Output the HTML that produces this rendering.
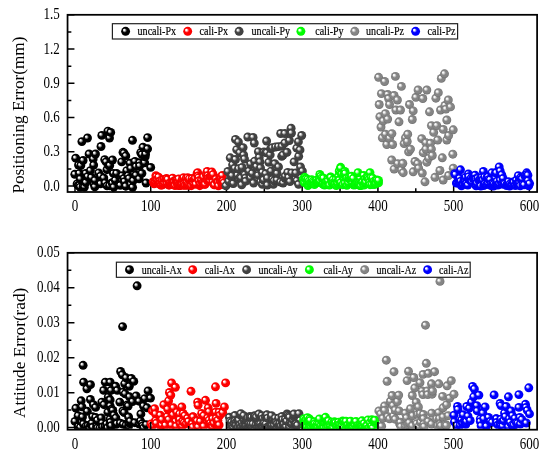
<!DOCTYPE html>
<html><head><meta charset="utf-8"><title>Positioning and attitude error</title>
<style>
html,body{margin:0;padding:0;background:#fff}
body{width:550px;height:456px;overflow:hidden}
svg{display:block;font-family:"Liberation Serif","Times New Roman",serif;fill:#000}
.tk text{font-size:17.4px}
.lg text{font-size:12.7px;stroke:#000;stroke-width:0.2px}
.ti{font-size:17.2px}
</style></head><body>
<svg width="550" height="456" viewBox="0 0 550 456">
<defs>
<radialGradient id="Gk" cx="0.5" cy="0.5" r="0.5" fx="0.31" fy="0.32"><stop offset="0" stop-color="#f6f6f6"/><stop offset="0.15" stop-color="#f6f6f6"/><stop offset="0.5" stop-color="#000000"/><stop offset="0.8" stop-color="#000000"/><stop offset="1" stop-color="#000000"/></radialGradient>
<g id="mk"><circle r="4.45" fill="url(#Gk)"/></g>
<radialGradient id="Gr" cx="0.5" cy="0.5" r="0.5" fx="0.31" fy="0.32"><stop offset="0" stop-color="#ffffff"/><stop offset="0.15" stop-color="#ffffff"/><stop offset="0.5" stop-color="#ff0000"/><stop offset="0.8" stop-color="#ff0000"/><stop offset="1" stop-color="#f00000"/></radialGradient>
<g id="mr"><circle r="4.45" fill="url(#Gr)"/></g>
<radialGradient id="Gd" cx="0.5" cy="0.5" r="0.5" fx="0.31" fy="0.32"><stop offset="0" stop-color="#f6f6f6"/><stop offset="0.15" stop-color="#f6f6f6"/><stop offset="0.5" stop-color="#424242"/><stop offset="0.8" stop-color="#424242"/><stop offset="1" stop-color="#383838"/></radialGradient>
<g id="md"><circle r="4.45" fill="url(#Gd)"/></g>
<radialGradient id="Gn" cx="0.5" cy="0.5" r="0.5" fx="0.31" fy="0.32"><stop offset="0" stop-color="#ffffff"/><stop offset="0.15" stop-color="#ffffff"/><stop offset="0.5" stop-color="#00ff00"/><stop offset="0.8" stop-color="#00ff00"/><stop offset="1" stop-color="#00f000"/></radialGradient>
<g id="mn"><circle r="4.45" fill="url(#Gn)"/></g>
<radialGradient id="Gg" cx="0.5" cy="0.5" r="0.5" fx="0.31" fy="0.32"><stop offset="0" stop-color="#f8f8f8"/><stop offset="0.15" stop-color="#f8f8f8"/><stop offset="0.5" stop-color="#858585"/><stop offset="0.8" stop-color="#858585"/><stop offset="1" stop-color="#6e6e6e"/></radialGradient>
<g id="mg"><circle r="4.45" fill="url(#Gg)"/></g>
<radialGradient id="Gb" cx="0.5" cy="0.5" r="0.5" fx="0.31" fy="0.32"><stop offset="0" stop-color="#ffffff"/><stop offset="0.15" stop-color="#ffffff"/><stop offset="0.5" stop-color="#0000ff"/><stop offset="0.8" stop-color="#0000ff"/><stop offset="1" stop-color="#0000f0"/></radialGradient>
<g id="mb"><circle r="4.45" fill="url(#Gb)"/></g>
<clipPath id="c1"><rect x="67.55" y="14.8" width="469.55" height="177.2"/></clipPath>
<clipPath id="c2"><rect x="67.55" y="252.8" width="469.55" height="175.99999999999997"/></clipPath>
</defs>
<rect width="550" height="456" fill="#fff"/>
<rect x="67.55" y="14.8" width="469.55" height="177.2" fill="none" stroke="#000" stroke-width="1.75"/>
<path d="M75.00 192.0v-7.8 M150.73 192.0v-7.8 M226.46 192.0v-7.8 M302.19 192.0v-7.8 M377.92 192.0v-7.8 M453.65 192.0v-7.8 M529.38 192.0v-7.8 M112.87 192.0v-3.8 M188.59 192.0v-3.8 M264.32 192.0v-3.8 M340.06 192.0v-3.8 M415.78 192.0v-3.8 M491.51 192.0v-3.8 M67.55 186.10h6.9 M67.55 151.84h6.9 M67.55 117.58h6.9 M67.55 83.32h6.9 M67.55 49.06h6.9 M67.55 14.80h6.9 M67.55 168.97h3.8 M67.55 134.71h3.8 M67.55 100.45h3.8 M67.55 66.19h3.8 M67.55 31.93h3.8" stroke="#000" stroke-width="1.5" fill="none"/>
<g class="tk">
<text transform="translate(75.0 211.2) scale(0.795 1)" text-anchor="middle" style="font-size:16.4px">0</text>
<text transform="translate(150.7 211.2) scale(0.795 1)" text-anchor="middle" style="font-size:16.4px">100</text>
<text transform="translate(226.5 211.2) scale(0.795 1)" text-anchor="middle" style="font-size:16.4px">200</text>
<text transform="translate(302.2 211.2) scale(0.795 1)" text-anchor="middle" style="font-size:16.4px">300</text>
<text transform="translate(377.9 211.2) scale(0.795 1)" text-anchor="middle" style="font-size:16.4px">400</text>
<text transform="translate(453.6 211.2) scale(0.795 1)" text-anchor="middle" style="font-size:16.4px">500</text>
<text transform="translate(529.4 211.2) scale(0.795 1)" text-anchor="middle" style="font-size:16.4px">600</text>
<text transform="translate(59.8 190.6) scale(0.75 1)" text-anchor="end">0.0</text>
<text transform="translate(59.8 156.3) scale(0.75 1)" text-anchor="end">0.3</text>
<text transform="translate(59.8 122.1) scale(0.75 1)" text-anchor="end">0.6</text>
<text transform="translate(59.8 87.8) scale(0.75 1)" text-anchor="end">0.9</text>
<text transform="translate(59.8 53.6) scale(0.75 1)" text-anchor="end">1.2</text>
<text transform="translate(59.8 19.3) scale(0.75 1)" text-anchor="end">1.5</text>
</g>
<g clip-path="url(#c1)">
<use href="#mk" x="74.8" y="174.3"/>
<use href="#mk" x="75.7" y="158.2"/>
<use href="#mk" x="77.1" y="183.9"/>
<use href="#mk" x="78.2" y="185.5"/>
<use href="#mk" x="78.5" y="165.1"/>
<use href="#mk" x="79.4" y="173.4"/>
<use href="#mk" x="79.4" y="185.2"/>
<use href="#mk" x="80.1" y="187.1"/>
<use href="#mk" x="80.3" y="178.9"/>
<use href="#mk" x="80.8" y="165.5"/>
<use href="#mk" x="81.9" y="141.6"/>
<use href="#mk" x="83.1" y="160.5"/>
<use href="#mk" x="83.2" y="186.5"/>
<use href="#mk" x="84.4" y="187.0"/>
<use href="#mk" x="85.8" y="173.4"/>
<use href="#mk" x="85.8" y="182.6"/>
<use href="#mk" x="87.5" y="138.0"/>
<use href="#mk" x="87.7" y="176.6"/>
<use href="#mk" x="89.1" y="154.0"/>
<use href="#mk" x="90.4" y="170.6"/>
<use href="#mk" x="91.4" y="177.5"/>
<use href="#mk" x="93.2" y="159.0"/>
<use href="#mk" x="93.7" y="165.1"/>
<use href="#mk" x="93.9" y="183.8"/>
<use href="#mk" x="94.8" y="186.8"/>
<use href="#mk" x="95.0" y="180.3"/>
<use href="#mk" x="95.5" y="154.0"/>
<use href="#mk" x="98.7" y="172.9"/>
<use href="#mk" x="100.6" y="176.1"/>
<use href="#mk" x="100.6" y="183.8"/>
<use href="#mk" x="101.0" y="146.5"/>
<use href="#mk" x="101.8" y="135.4"/>
<use href="#mk" x="103.8" y="178.0"/>
<use href="#mk" x="104.7" y="159.6"/>
<use href="#mk" x="105.2" y="183.0"/>
<use href="#mk" x="106.1" y="161.9"/>
<use href="#mk" x="107.0" y="169.7"/>
<use href="#mk" x="107.1" y="185.9"/>
<use href="#mk" x="107.9" y="131.1"/>
<use href="#mk" x="108.8" y="165.5"/>
<use href="#mk" x="109.5" y="138.0"/>
<use href="#mk" x="109.5" y="185.7"/>
<use href="#mk" x="109.7" y="165.5"/>
<use href="#mk" x="110.7" y="132.4"/>
<use href="#mk" x="112.0" y="182.6"/>
<use href="#mk" x="112.4" y="183.2"/>
<use href="#mk" x="112.5" y="160.0"/>
<use href="#mk" x="113.4" y="173.4"/>
<use href="#mk" x="113.8" y="187.2"/>
<use href="#mk" x="115.3" y="180.3"/>
<use href="#mk" x="116.6" y="173.4"/>
<use href="#mk" x="120.3" y="185.3"/>
<use href="#mk" x="121.7" y="161.9"/>
<use href="#mk" x="122.2" y="175.7"/>
<use href="#mk" x="123.0" y="152.3"/>
<use href="#mk" x="124.0" y="153.1"/>
<use href="#mk" x="124.0" y="178.4"/>
<use href="#mk" x="124.5" y="181.6"/>
<use href="#mk" x="125.8" y="155.9"/>
<use href="#mk" x="125.8" y="185.8"/>
<use href="#mk" x="125.8" y="186.2"/>
<use href="#mk" x="126.8" y="170.6"/>
<use href="#mk" x="128.1" y="175.7"/>
<use href="#mk" x="129.1" y="178.4"/>
<use href="#mk" x="130.0" y="163.2"/>
<use href="#mk" x="130.9" y="168.3"/>
<use href="#mk" x="130.9" y="184.4"/>
<use href="#mk" x="132.5" y="140.3"/>
<use href="#mk" x="132.6" y="187.3"/>
<use href="#mk" x="133.2" y="180.7"/>
<use href="#mk" x="135.0" y="161.4"/>
<use href="#mk" x="136.0" y="166.5"/>
<use href="#mk" x="136.0" y="175.2"/>
<use href="#mk" x="139.2" y="178.9"/>
<use href="#mk" x="139.6" y="162.8"/>
<use href="#mk" x="139.6" y="166.0"/>
<use href="#mk" x="140.7" y="152.6"/>
<use href="#mk" x="141.9" y="154.5"/>
<use href="#mk" x="141.9" y="173.4"/>
<use href="#mk" x="143.0" y="147.2"/>
<use href="#mk" x="144.7" y="162.8"/>
<use href="#mk" x="145.2" y="156.8"/>
<use href="#mk" x="145.6" y="154.1"/>
<use href="#mk" x="146.1" y="183.0"/>
<use href="#mk" x="147.6" y="137.6"/>
<use href="#mk" x="147.6" y="148.8"/>
<use href="#mk" x="150.7" y="167.4"/>
<use href="#mr" x="153.2" y="181.6"/>
<use href="#mr" x="154.1" y="183.8"/>
<use href="#mr" x="154.7" y="180.9"/>
<use href="#mr" x="155.4" y="182.2"/>
<use href="#mr" x="155.9" y="175.6"/>
<use href="#mr" x="156.4" y="176.6"/>
<use href="#mr" x="156.9" y="180.1"/>
<use href="#mr" x="157.3" y="179.9"/>
<use href="#mr" x="158.6" y="177.1"/>
<use href="#mr" x="159.5" y="184.2"/>
<use href="#mr" x="159.9" y="181.0"/>
<use href="#mr" x="160.4" y="183.0"/>
<use href="#mr" x="161.3" y="185.3"/>
<use href="#mr" x="162.0" y="180.5"/>
<use href="#mr" x="162.9" y="184.6"/>
<use href="#mr" x="163.8" y="179.5"/>
<use href="#mr" x="164.4" y="183.2"/>
<use href="#mr" x="165.5" y="179.4"/>
<use href="#mr" x="166.5" y="179.6"/>
<use href="#mr" x="166.5" y="178.5"/>
<use href="#mr" x="166.9" y="183.4"/>
<use href="#mr" x="167.7" y="179.4"/>
<use href="#mr" x="169.0" y="185.2"/>
<use href="#mr" x="169.1" y="184.7"/>
<use href="#mr" x="170.0" y="182.9"/>
<use href="#mr" x="171.0" y="184.5"/>
<use href="#mr" x="171.4" y="183.4"/>
<use href="#mr" x="172.4" y="182.2"/>
<use href="#mr" x="172.6" y="178.1"/>
<use href="#mr" x="173.7" y="181.2"/>
<use href="#mr" x="174.1" y="181.8"/>
<use href="#mr" x="175.0" y="185.6"/>
<use href="#mr" x="176.0" y="180.4"/>
<use href="#mr" x="176.7" y="180.2"/>
<use href="#mr" x="177.1" y="183.5"/>
<use href="#mr" x="177.7" y="181.7"/>
<use href="#mr" x="178.4" y="185.6"/>
<use href="#mr" x="178.7" y="178.9"/>
<use href="#mr" x="179.3" y="185.1"/>
<use href="#mr" x="180.2" y="185.6"/>
<use href="#mr" x="180.7" y="185.2"/>
<use href="#mr" x="181.6" y="183.8"/>
<use href="#mr" x="182.3" y="179.5"/>
<use href="#mr" x="183.6" y="185.2"/>
<use href="#mr" x="183.6" y="177.7"/>
<use href="#mr" x="184.1" y="183.9"/>
<use href="#mr" x="184.9" y="185.3"/>
<use href="#mr" x="186.1" y="178.4"/>
<use href="#mr" x="186.6" y="182.9"/>
<use href="#mr" x="187.1" y="185.4"/>
<use href="#mr" x="187.7" y="177.7"/>
<use href="#mr" x="188.0" y="184.5"/>
<use href="#mr" x="189.2" y="185.1"/>
<use href="#mr" x="189.3" y="178.8"/>
<use href="#mr" x="190.5" y="185.2"/>
<use href="#mr" x="191.3" y="185.7"/>
<use href="#mr" x="192.1" y="178.5"/>
<use href="#mr" x="193.1" y="180.8"/>
<use href="#mr" x="193.4" y="183.5"/>
<use href="#mr" x="194.2" y="179.3"/>
<use href="#mr" x="195.2" y="178.3"/>
<use href="#mr" x="195.8" y="184.2"/>
<use href="#mr" x="197.0" y="173.7"/>
<use href="#mr" x="197.7" y="172.7"/>
<use href="#mr" x="197.8" y="176.0"/>
<use href="#mr" x="198.6" y="177.6"/>
<use href="#mr" x="198.9" y="180.8"/>
<use href="#mr" x="199.8" y="185.7"/>
<use href="#mr" x="200.3" y="183.9"/>
<use href="#mr" x="201.3" y="180.1"/>
<use href="#mr" x="202.6" y="183.0"/>
<use href="#mr" x="203.3" y="176.9"/>
<use href="#mr" x="204.1" y="183.1"/>
<use href="#mr" x="204.4" y="184.3"/>
<use href="#mr" x="205.1" y="184.3"/>
<use href="#mr" x="206.2" y="174.4"/>
<use href="#mr" x="207.2" y="180.3"/>
<use href="#mr" x="207.2" y="171.4"/>
<use href="#mr" x="207.8" y="175.7"/>
<use href="#mr" x="208.2" y="178.2"/>
<use href="#mr" x="209.6" y="177.7"/>
<use href="#mr" x="210.2" y="181.2"/>
<use href="#mr" x="210.6" y="176.7"/>
<use href="#mr" x="211.5" y="175.7"/>
<use href="#mr" x="211.8" y="171.9"/>
<use href="#mr" x="212.8" y="182.0"/>
<use href="#mr" x="213.1" y="174.4"/>
<use href="#mr" x="214.1" y="184.7"/>
<use href="#mr" x="214.4" y="184.9"/>
<use href="#mr" x="215.8" y="179.2"/>
<use href="#mr" x="216.0" y="179.2"/>
<use href="#mr" x="217.5" y="181.4"/>
<use href="#mr" x="217.7" y="182.3"/>
<use href="#mr" x="218.4" y="185.8"/>
<use href="#mr" x="219.8" y="180.7"/>
<use href="#mr" x="220.2" y="177.4"/>
<use href="#mr" x="220.9" y="177.8"/>
<use href="#mr" x="222.0" y="184.5"/>
<use href="#mr" x="222.3" y="175.5"/>
<use href="#mr" x="222.4" y="183.7"/>
<use href="#mr" x="223.1" y="180.9"/>
<use href="#mr" x="223.9" y="182.8"/>
<use href="#md" x="226.0" y="185.8"/>
<use href="#md" x="227.9" y="171.5"/>
<use href="#md" x="228.8" y="181.2"/>
<use href="#md" x="230.2" y="157.8"/>
<use href="#md" x="230.8" y="176.6"/>
<use href="#md" x="232.0" y="175.7"/>
<use href="#md" x="232.3" y="183.1"/>
<use href="#md" x="232.6" y="164.8"/>
<use href="#md" x="233.4" y="183.5"/>
<use href="#md" x="234.8" y="168.3"/>
<use href="#md" x="235.5" y="139.4"/>
<use href="#md" x="235.5" y="159.5"/>
<use href="#md" x="236.7" y="149.6"/>
<use href="#md" x="237.5" y="175.2"/>
<use href="#md" x="238.4" y="141.9"/>
<use href="#md" x="238.5" y="168.8"/>
<use href="#md" x="238.9" y="179.2"/>
<use href="#md" x="239.8" y="152.7"/>
<use href="#md" x="240.3" y="177.0"/>
<use href="#md" x="241.0" y="177.9"/>
<use href="#md" x="241.7" y="184.9"/>
<use href="#md" x="242.1" y="167.4"/>
<use href="#md" x="243.1" y="147.6"/>
<use href="#md" x="243.7" y="155.0"/>
<use href="#md" x="244.5" y="159.0"/>
<use href="#md" x="244.9" y="174.7"/>
<use href="#md" x="245.6" y="178.0"/>
<use href="#md" x="245.8" y="181.2"/>
<use href="#md" x="247.8" y="137.0"/>
<use href="#md" x="249.0" y="171.0"/>
<use href="#md" x="250.6" y="164.0"/>
<use href="#md" x="250.6" y="177.8"/>
<use href="#md" x="252.3" y="173.4"/>
<use href="#md" x="253.1" y="137.4"/>
<use href="#md" x="253.6" y="183.0"/>
<use href="#md" x="254.3" y="143.1"/>
<use href="#md" x="254.7" y="161.1"/>
<use href="#md" x="256.4" y="166.5"/>
<use href="#md" x="258.1" y="175.4"/>
<use href="#md" x="258.4" y="151.7"/>
<use href="#md" x="259.2" y="157.4"/>
<use href="#md" x="260.0" y="161.9"/>
<use href="#md" x="260.5" y="167.8"/>
<use href="#md" x="260.6" y="181.8"/>
<use href="#md" x="262.4" y="172.4"/>
<use href="#md" x="262.4" y="184.4"/>
<use href="#md" x="263.3" y="179.8"/>
<use href="#md" x="263.7" y="179.8"/>
<use href="#md" x="264.0" y="151.9"/>
<use href="#md" x="265.8" y="152.5"/>
<use href="#md" x="265.8" y="173.7"/>
<use href="#md" x="266.6" y="141.0"/>
<use href="#md" x="266.9" y="152.7"/>
<use href="#md" x="267.4" y="178.0"/>
<use href="#md" x="267.4" y="185.1"/>
<use href="#md" x="268.8" y="162.3"/>
<use href="#md" x="270.2" y="154.8"/>
<use href="#md" x="270.6" y="148.6"/>
<use href="#md" x="271.1" y="171.1"/>
<use href="#md" x="272.2" y="147.8"/>
<use href="#md" x="272.5" y="179.3"/>
<use href="#md" x="273.4" y="184.4"/>
<use href="#md" x="274.0" y="180.8"/>
<use href="#md" x="274.8" y="163.7"/>
<use href="#md" x="275.5" y="147.0"/>
<use href="#md" x="277.0" y="180.0"/>
<use href="#md" x="277.1" y="173.4"/>
<use href="#md" x="278.4" y="146.6"/>
<use href="#md" x="278.5" y="166.9"/>
<use href="#md" x="280.5" y="182.0"/>
<use href="#md" x="280.7" y="133.5"/>
<use href="#md" x="281.7" y="156.3"/>
<use href="#md" x="282.0" y="146.2"/>
<use href="#md" x="283.1" y="155.0"/>
<use href="#md" x="283.1" y="183.0"/>
<use href="#md" x="284.9" y="133.5"/>
<use href="#md" x="284.9" y="142.9"/>
<use href="#md" x="284.9" y="178.0"/>
<use href="#md" x="285.2" y="176.2"/>
<use href="#md" x="287.0" y="152.3"/>
<use href="#md" x="287.7" y="172.4"/>
<use href="#md" x="288.6" y="177.5"/>
<use href="#md" x="289.4" y="140.5"/>
<use href="#md" x="290.0" y="181.6"/>
<use href="#md" x="291.1" y="128.2"/>
<use href="#md" x="291.5" y="133.1"/>
<use href="#md" x="291.8" y="172.9"/>
<use href="#md" x="294.1" y="161.9"/>
<use href="#md" x="295.9" y="172.9"/>
<use href="#md" x="296.8" y="148.2"/>
<use href="#md" x="296.9" y="180.7"/>
<use href="#md" x="298.4" y="141.7"/>
<use href="#md" x="298.6" y="184.3"/>
<use href="#md" x="298.7" y="156.3"/>
<use href="#md" x="300.0" y="149.9"/>
<use href="#md" x="300.5" y="166.9"/>
<use href="#md" x="301.7" y="135.5"/>
<use href="#md" x="302.4" y="171.1"/>
<use href="#mn" x="303.3" y="178.8"/>
<use href="#mn" x="304.4" y="182.7"/>
<use href="#mn" x="304.8" y="177.3"/>
<use href="#mn" x="305.4" y="178.6"/>
<use href="#mn" x="306.1" y="178.7"/>
<use href="#mn" x="307.1" y="182.4"/>
<use href="#mn" x="307.7" y="179.4"/>
<use href="#mn" x="307.9" y="185.6"/>
<use href="#mn" x="308.7" y="184.9"/>
<use href="#mn" x="309.2" y="180.9"/>
<use href="#mn" x="310.2" y="183.3"/>
<use href="#mn" x="311.5" y="182.8"/>
<use href="#mn" x="311.8" y="179.8"/>
<use href="#mn" x="312.0" y="183.0"/>
<use href="#mn" x="313.1" y="181.2"/>
<use href="#mn" x="313.6" y="182.8"/>
<use href="#mn" x="314.5" y="184.5"/>
<use href="#mn" x="315.8" y="182.6"/>
<use href="#mn" x="316.5" y="180.1"/>
<use href="#mn" x="317.7" y="182.5"/>
<use href="#mn" x="318.3" y="181.6"/>
<use href="#mn" x="319.0" y="179.1"/>
<use href="#mn" x="319.8" y="174.4"/>
<use href="#mn" x="319.8" y="180.7"/>
<use href="#mn" x="320.7" y="176.2"/>
<use href="#mn" x="321.8" y="177.9"/>
<use href="#mn" x="322.8" y="184.2"/>
<use href="#mn" x="323.4" y="178.7"/>
<use href="#mn" x="323.5" y="178.2"/>
<use href="#mn" x="324.5" y="185.1"/>
<use href="#mn" x="324.7" y="183.2"/>
<use href="#mn" x="325.5" y="184.5"/>
<use href="#mn" x="326.4" y="181.7"/>
<use href="#mn" x="327.8" y="179.3"/>
<use href="#mn" x="328.1" y="180.8"/>
<use href="#mn" x="329.4" y="185.0"/>
<use href="#mn" x="330.5" y="177.3"/>
<use href="#mn" x="330.6" y="176.9"/>
<use href="#mn" x="330.8" y="177.5"/>
<use href="#mn" x="331.8" y="182.4"/>
<use href="#mn" x="333.1" y="179.8"/>
<use href="#mn" x="333.3" y="183.2"/>
<use href="#mn" x="334.4" y="184.0"/>
<use href="#mn" x="335.0" y="184.0"/>
<use href="#mn" x="336.0" y="179.4"/>
<use href="#mn" x="336.3" y="185.6"/>
<use href="#mn" x="337.0" y="182.3"/>
<use href="#mn" x="337.4" y="183.1"/>
<use href="#mn" x="338.4" y="176.3"/>
<use href="#mn" x="338.8" y="179.8"/>
<use href="#mn" x="339.2" y="171.0"/>
<use href="#mn" x="339.3" y="180.2"/>
<use href="#mn" x="340.6" y="167.3"/>
<use href="#mn" x="340.7" y="168.1"/>
<use href="#mn" x="340.9" y="182.5"/>
<use href="#mn" x="341.7" y="174.4"/>
<use href="#mn" x="342.8" y="184.7"/>
<use href="#mn" x="343.5" y="178.2"/>
<use href="#mn" x="343.8" y="174.6"/>
<use href="#mn" x="344.9" y="171.4"/>
<use href="#mn" x="345.0" y="183.2"/>
<use href="#mn" x="345.3" y="173.4"/>
<use href="#mn" x="346.5" y="178.3"/>
<use href="#mn" x="346.9" y="185.3"/>
<use href="#mn" x="348.3" y="182.8"/>
<use href="#mn" x="348.6" y="178.1"/>
<use href="#mn" x="349.9" y="179.4"/>
<use href="#mn" x="350.3" y="178.6"/>
<use href="#mn" x="351.2" y="178.1"/>
<use href="#mn" x="351.5" y="176.3"/>
<use href="#mn" x="352.4" y="183.5"/>
<use href="#mn" x="353.3" y="178.3"/>
<use href="#mn" x="353.9" y="185.1"/>
<use href="#mn" x="355.0" y="184.2"/>
<use href="#mn" x="355.5" y="184.7"/>
<use href="#mn" x="356.3" y="184.3"/>
<use href="#mn" x="357.4" y="183.0"/>
<use href="#mn" x="358.0" y="172.7"/>
<use href="#mn" x="358.6" y="183.2"/>
<use href="#mn" x="359.2" y="184.4"/>
<use href="#mn" x="360.0" y="185.5"/>
<use href="#mn" x="360.7" y="185.6"/>
<use href="#mn" x="362.0" y="181.6"/>
<use href="#mn" x="362.4" y="182.2"/>
<use href="#mn" x="363.7" y="175.5"/>
<use href="#mn" x="363.9" y="185.1"/>
<use href="#mn" x="364.7" y="182.5"/>
<use href="#mn" x="365.2" y="178.6"/>
<use href="#mn" x="366.0" y="182.2"/>
<use href="#mn" x="367.1" y="176.9"/>
<use href="#mn" x="367.7" y="178.0"/>
<use href="#mn" x="368.8" y="179.3"/>
<use href="#mn" x="369.4" y="182.5"/>
<use href="#mn" x="370.0" y="184.7"/>
<use href="#mn" x="370.0" y="172.7"/>
<use href="#mn" x="370.9" y="177.7"/>
<use href="#mn" x="371.9" y="184.6"/>
<use href="#mn" x="372.6" y="178.1"/>
<use href="#mn" x="374.1" y="181.3"/>
<use href="#mn" x="374.5" y="184.5"/>
<use href="#mn" x="375.3" y="183.4"/>
<use href="#mn" x="375.9" y="180.9"/>
<use href="#mn" x="376.1" y="183.5"/>
<use href="#mn" x="377.0" y="179.9"/>
<use href="#mn" x="378.5" y="182.9"/>
<use href="#mn" x="378.5" y="180.4"/>
<use href="#mg" x="378.6" y="77.3"/>
<use href="#mg" x="379.2" y="104.5"/>
<use href="#mg" x="379.9" y="116.7"/>
<use href="#mg" x="381.0" y="127.0"/>
<use href="#mg" x="381.4" y="93.6"/>
<use href="#mg" x="382.3" y="137.8"/>
<use href="#mg" x="383.2" y="120.9"/>
<use href="#mg" x="384.6" y="81.5"/>
<use href="#mg" x="385.4" y="113.6"/>
<use href="#mg" x="385.4" y="134.2"/>
<use href="#mg" x="386.8" y="144.5"/>
<use href="#mg" x="387.7" y="94.5"/>
<use href="#mg" x="387.7" y="119.1"/>
<use href="#mg" x="388.6" y="98.5"/>
<use href="#mg" x="389.5" y="104.5"/>
<use href="#mg" x="389.5" y="138.2"/>
<use href="#mg" x="391.7" y="160.0"/>
<use href="#mg" x="391.9" y="133.6"/>
<use href="#mg" x="392.6" y="144.5"/>
<use href="#mg" x="394.1" y="95.5"/>
<use href="#mg" x="394.1" y="169.1"/>
<use href="#mg" x="395.4" y="76.4"/>
<use href="#mg" x="395.9" y="110.0"/>
<use href="#mg" x="397.4" y="100.0"/>
<use href="#mg" x="397.7" y="163.6"/>
<use href="#mg" x="399.0" y="121.8"/>
<use href="#mg" x="400.5" y="110.0"/>
<use href="#mg" x="401.4" y="86.4"/>
<use href="#mg" x="401.4" y="170.0"/>
<use href="#mg" x="402.8" y="163.3"/>
<use href="#mg" x="403.2" y="172.7"/>
<use href="#mg" x="404.1" y="143.6"/>
<use href="#mg" x="405.4" y="137.8"/>
<use href="#mg" x="407.2" y="141.5"/>
<use href="#mg" x="407.7" y="134.2"/>
<use href="#mg" x="408.6" y="151.8"/>
<use href="#mg" x="409.5" y="104.5"/>
<use href="#mg" x="410.5" y="149.1"/>
<use href="#mg" x="412.3" y="119.5"/>
<use href="#mg" x="413.2" y="110.9"/>
<use href="#mg" x="413.2" y="171.8"/>
<use href="#mg" x="415.0" y="161.5"/>
<use href="#mg" x="415.9" y="97.3"/>
<use href="#mg" x="417.7" y="163.6"/>
<use href="#mg" x="418.1" y="90.0"/>
<use href="#mg" x="418.6" y="168.2"/>
<use href="#mg" x="421.7" y="138.7"/>
<use href="#mg" x="422.3" y="173.1"/>
<use href="#mg" x="422.8" y="98.5"/>
<use href="#mg" x="423.2" y="152.7"/>
<use href="#mg" x="425.0" y="181.8"/>
<use href="#mg" x="425.9" y="142.7"/>
<use href="#mg" x="425.9" y="149.1"/>
<use href="#mg" x="426.8" y="90.0"/>
<use href="#mg" x="426.8" y="162.2"/>
<use href="#mg" x="428.6" y="158.2"/>
<use href="#mg" x="429.5" y="111.8"/>
<use href="#mg" x="430.5" y="143.3"/>
<use href="#mg" x="431.4" y="125.6"/>
<use href="#mg" x="431.4" y="149.1"/>
<use href="#mg" x="432.3" y="155.5"/>
<use href="#mg" x="433.7" y="132.4"/>
<use href="#mg" x="435.0" y="177.3"/>
<use href="#mg" x="435.9" y="98.2"/>
<use href="#mg" x="436.8" y="125.6"/>
<use href="#mg" x="437.7" y="140.0"/>
<use href="#mg" x="438.3" y="92.7"/>
<use href="#mg" x="439.9" y="170.5"/>
<use href="#mg" x="440.5" y="110.0"/>
<use href="#mg" x="441.3" y="78.4"/>
<use href="#mg" x="442.3" y="157.8"/>
<use href="#mg" x="443.2" y="129.4"/>
<use href="#mg" x="443.2" y="180.0"/>
<use href="#mg" x="444.5" y="73.8"/>
<use href="#mg" x="445.0" y="105.5"/>
<use href="#mg" x="445.9" y="109.1"/>
<use href="#mg" x="446.8" y="120.0"/>
<use href="#mg" x="446.8" y="140.0"/>
<use href="#mg" x="448.3" y="100.0"/>
<use href="#mg" x="448.6" y="135.5"/>
<use href="#mg" x="448.6" y="175.5"/>
<use href="#mg" x="450.5" y="106.9"/>
<use href="#mg" x="452.8" y="154.2"/>
<use href="#mg" x="453.2" y="129.8"/>
<use href="#mg" x="453.2" y="168.2"/>
<use href="#mb" x="454.7" y="173.6"/>
<use href="#mb" x="455.4" y="174.6"/>
<use href="#mb" x="456.4" y="183.1"/>
<use href="#mb" x="457.0" y="182.8"/>
<use href="#mb" x="458.3" y="180.7"/>
<use href="#mb" x="459.0" y="180.2"/>
<use href="#mb" x="459.7" y="183.3"/>
<use href="#mb" x="459.7" y="178.2"/>
<use href="#mb" x="460.5" y="169.8"/>
<use href="#mb" x="460.7" y="181.2"/>
<use href="#mb" x="461.5" y="185.9"/>
<use href="#mb" x="462.7" y="184.0"/>
<use href="#mb" x="463.8" y="181.0"/>
<use href="#mb" x="464.9" y="180.3"/>
<use href="#mb" x="465.7" y="177.2"/>
<use href="#mb" x="466.4" y="183.5"/>
<use href="#mb" x="467.8" y="185.0"/>
<use href="#mb" x="468.4" y="174.0"/>
<use href="#mb" x="468.5" y="179.3"/>
<use href="#mb" x="468.7" y="176.7"/>
<use href="#mb" x="470.4" y="180.1"/>
<use href="#mb" x="471.2" y="178.1"/>
<use href="#mb" x="471.5" y="181.6"/>
<use href="#mb" x="472.8" y="178.1"/>
<use href="#mb" x="473.9" y="177.9"/>
<use href="#mb" x="474.6" y="176.9"/>
<use href="#mb" x="475.1" y="175.2"/>
<use href="#mb" x="475.5" y="178.6"/>
<use href="#mb" x="475.6" y="179.4"/>
<use href="#mb" x="476.1" y="185.9"/>
<use href="#mb" x="476.9" y="183.3"/>
<use href="#mb" x="477.8" y="178.2"/>
<use href="#mb" x="479.1" y="180.7"/>
<use href="#mb" x="480.1" y="179.4"/>
<use href="#mb" x="480.5" y="179.0"/>
<use href="#mb" x="480.8" y="186.0"/>
<use href="#mb" x="482.0" y="177.1"/>
<use href="#mb" x="482.7" y="179.9"/>
<use href="#mb" x="483.4" y="171.5"/>
<use href="#mb" x="483.7" y="185.6"/>
<use href="#mb" x="484.7" y="183.8"/>
<use href="#mb" x="484.7" y="176.9"/>
<use href="#mb" x="485.0" y="183.7"/>
<use href="#mb" x="486.5" y="184.6"/>
<use href="#mb" x="487.4" y="176.2"/>
<use href="#mb" x="488.0" y="183.1"/>
<use href="#mb" x="488.0" y="176.9"/>
<use href="#mb" x="488.9" y="179.4"/>
<use href="#mb" x="490.1" y="179.7"/>
<use href="#mb" x="490.9" y="185.6"/>
<use href="#mb" x="491.3" y="183.8"/>
<use href="#mb" x="491.8" y="172.8"/>
<use href="#mb" x="492.8" y="183.4"/>
<use href="#mb" x="493.5" y="186.0"/>
<use href="#mb" x="494.0" y="183.8"/>
<use href="#mb" x="495.4" y="177.8"/>
<use href="#mb" x="495.5" y="172.8"/>
<use href="#mb" x="496.2" y="172.8"/>
<use href="#mb" x="496.3" y="183.3"/>
<use href="#mb" x="497.1" y="181.2"/>
<use href="#mb" x="497.9" y="185.0"/>
<use href="#mb" x="499.2" y="183.7"/>
<use href="#mb" x="499.2" y="166.9"/>
<use href="#mb" x="500.2" y="171.0"/>
<use href="#mb" x="500.2" y="180.1"/>
<use href="#mb" x="501.8" y="174.8"/>
<use href="#mb" x="502.4" y="184.2"/>
<use href="#mb" x="503.1" y="178.4"/>
<use href="#mb" x="504.0" y="183.2"/>
<use href="#mb" x="504.8" y="183.8"/>
<use href="#mb" x="506.5" y="185.6"/>
<use href="#mb" x="507.2" y="183.9"/>
<use href="#mb" x="508.2" y="182.8"/>
<use href="#mb" x="508.5" y="181.7"/>
<use href="#mb" x="509.6" y="186.0"/>
<use href="#mb" x="510.1" y="184.0"/>
<use href="#mb" x="511.4" y="184.9"/>
<use href="#mb" x="512.0" y="184.8"/>
<use href="#mb" x="513.1" y="182.0"/>
<use href="#mb" x="513.7" y="182.3"/>
<use href="#mb" x="515.4" y="185.5"/>
<use href="#mb" x="516.3" y="180.2"/>
<use href="#mb" x="517.2" y="184.1"/>
<use href="#mb" x="517.6" y="183.1"/>
<use href="#mb" x="518.3" y="175.7"/>
<use href="#mb" x="519.1" y="181.1"/>
<use href="#mb" x="519.4" y="182.8"/>
<use href="#mb" x="520.2" y="185.8"/>
<use href="#mb" x="520.4" y="177.8"/>
<use href="#mb" x="521.0" y="179.3"/>
<use href="#mb" x="522.1" y="178.8"/>
<use href="#mb" x="522.9" y="184.5"/>
<use href="#mb" x="524.1" y="184.9"/>
<use href="#mb" x="524.8" y="175.7"/>
<use href="#mb" x="526.2" y="176.4"/>
<use href="#mb" x="526.7" y="172.8"/>
<use href="#mb" x="526.9" y="174.4"/>
<use href="#mb" x="527.9" y="175.2"/>
<use href="#mb" x="528.0" y="180.7"/>
<use href="#mb" x="528.7" y="185.8"/>
<use href="#mb" x="529.6" y="183.6"/>
</g>
<rect x="112.4" y="23.7" width="345.20000000000005" height="15.3" fill="#fff" stroke="#222" stroke-width="1.2"/>
<g class="lg">
<use href="#mk" x="125.6" y="31.3"/>
<text transform="translate(137.6 35.2) scale(0.79 1)">uncali-Px</text>
<use href="#mr" x="187.7" y="31.3"/>
<text transform="translate(199.6 35.2) scale(0.79 1)">cali-Px</text>
<use href="#md" x="239.1" y="31.3"/>
<text transform="translate(251.6 35.2) scale(0.79 1)">uncali-Py</text>
<use href="#mn" x="300.9" y="31.3"/>
<text transform="translate(315.2 35.2) scale(0.79 1)">cali-Py</text>
<use href="#mg" x="354.8" y="31.3"/>
<text transform="translate(366.1 35.2) scale(0.79 1)">uncali-Pz</text>
<use href="#mb" x="415.6" y="31.3"/>
<text transform="translate(427.6 35.2) scale(0.79 1)">cali-Pz</text>
</g>
<text class="ti" transform="translate(23.9 193.6) rotate(-90)">Positioning Error(mm)</text>
<g clip-path="url(#c2)">
<use href="#mk" x="75.0" y="421.4"/>
<use href="#mk" x="75.9" y="408.2"/>
<use href="#mk" x="78.1" y="415.7"/>
<use href="#mk" x="78.1" y="426.6"/>
<use href="#mk" x="80.3" y="427.3"/>
<use href="#mk" x="81.2" y="400.8"/>
<use href="#mk" x="82.0" y="406.9"/>
<use href="#mk" x="82.5" y="417.0"/>
<use href="#mk" x="83.1" y="365.3"/>
<use href="#mk" x="83.4" y="424.0"/>
<use href="#mk" x="83.6" y="382.2"/>
<use href="#mk" x="86.0" y="426.2"/>
<use href="#mk" x="86.9" y="388.8"/>
<use href="#mk" x="87.3" y="411.3"/>
<use href="#mk" x="88.0" y="425.5"/>
<use href="#mk" x="89.5" y="428.1"/>
<use href="#mk" x="90.4" y="399.5"/>
<use href="#mk" x="90.5" y="384.7"/>
<use href="#mk" x="90.6" y="424.4"/>
<use href="#mk" x="92.1" y="423.1"/>
<use href="#mk" x="92.6" y="416.6"/>
<use href="#mk" x="92.7" y="427.3"/>
<use href="#mk" x="93.4" y="404.7"/>
<use href="#mk" x="95.6" y="407.4"/>
<use href="#mk" x="95.6" y="417.4"/>
<use href="#mk" x="96.6" y="426.6"/>
<use href="#mk" x="97.4" y="428.0"/>
<use href="#mk" x="97.4" y="420.3"/>
<use href="#mk" x="99.9" y="428.1"/>
<use href="#mk" x="101.3" y="417.9"/>
<use href="#mk" x="101.8" y="402.1"/>
<use href="#mk" x="102.2" y="423.1"/>
<use href="#mk" x="102.4" y="427.0"/>
<use href="#mk" x="103.7" y="390.4"/>
<use href="#mk" x="104.0" y="404.7"/>
<use href="#mk" x="105.0" y="426.1"/>
<use href="#mk" x="105.3" y="382.2"/>
<use href="#mk" x="106.6" y="424.0"/>
<use href="#mk" x="107.5" y="427.9"/>
<use href="#mk" x="107.9" y="412.2"/>
<use href="#mk" x="108.2" y="397.1"/>
<use href="#mk" x="109.2" y="399.9"/>
<use href="#mk" x="109.7" y="406.0"/>
<use href="#mk" x="110.0" y="423.9"/>
<use href="#mk" x="110.1" y="419.2"/>
<use href="#mk" x="110.2" y="382.2"/>
<use href="#mk" x="110.2" y="399.9"/>
<use href="#mk" x="110.2" y="406.0"/>
<use href="#mk" x="110.6" y="422.2"/>
<use href="#mk" x="110.8" y="427.5"/>
<use href="#mk" x="111.1" y="390.4"/>
<use href="#mk" x="111.2" y="425.7"/>
<use href="#mk" x="111.6" y="409.2"/>
<use href="#mk" x="112.7" y="410.4"/>
<use href="#mk" x="112.8" y="410.4"/>
<use href="#mk" x="113.3" y="414.8"/>
<use href="#mk" x="114.0" y="415.2"/>
<use href="#mk" x="115.7" y="386.3"/>
<use href="#mk" x="115.9" y="417.9"/>
<use href="#mk" x="115.9" y="424.5"/>
<use href="#mk" x="116.1" y="423.5"/>
<use href="#mk" x="116.8" y="423.6"/>
<use href="#mk" x="117.3" y="390.4"/>
<use href="#mk" x="119.8" y="402.1"/>
<use href="#mk" x="120.3" y="423.1"/>
<use href="#mk" x="120.6" y="371.5"/>
<use href="#mk" x="122.3" y="374.8"/>
<use href="#mk" x="122.6" y="326.6"/>
<use href="#mk" x="122.9" y="411.0"/>
<use href="#mk" x="123.1" y="392.1"/>
<use href="#mk" x="123.2" y="424.3"/>
<use href="#mk" x="124.2" y="412.6"/>
<use href="#mk" x="124.7" y="383.8"/>
<use href="#mk" x="125.1" y="393.8"/>
<use href="#mk" x="126.0" y="425.3"/>
<use href="#mk" x="126.1" y="377.8"/>
<use href="#mk" x="127.2" y="404.9"/>
<use href="#mk" x="128.2" y="406.0"/>
<use href="#mk" x="128.5" y="426.6"/>
<use href="#mk" x="128.6" y="417.0"/>
<use href="#mk" x="128.7" y="422.9"/>
<use href="#mk" x="129.3" y="386.3"/>
<use href="#mk" x="129.5" y="396.8"/>
<use href="#mk" x="130.2" y="421.2"/>
<use href="#mk" x="131.3" y="378.4"/>
<use href="#mk" x="132.6" y="401.6"/>
<use href="#mk" x="133.8" y="381.4"/>
<use href="#mk" x="134.8" y="422.7"/>
<use href="#mk" x="136.1" y="395.9"/>
<use href="#mk" x="137.1" y="285.8"/>
<use href="#mk" x="139.1" y="401.2"/>
<use href="#mk" x="139.4" y="424.0"/>
<use href="#mk" x="140.5" y="420.9"/>
<use href="#mk" x="140.9" y="413.9"/>
<use href="#mk" x="142.2" y="423.6"/>
<use href="#mk" x="142.7" y="425.9"/>
<use href="#mk" x="143.5" y="406.0"/>
<use href="#mk" x="143.7" y="427.9"/>
<use href="#mk" x="144.8" y="398.6"/>
<use href="#mk" x="146.3" y="424.7"/>
<use href="#mk" x="147.0" y="407.8"/>
<use href="#mk" x="148.1" y="390.9"/>
<use href="#mk" x="150.5" y="398.1"/>
<use href="#mr" x="151.1" y="424.0"/>
<use href="#mr" x="152.3" y="410.9"/>
<use href="#mr" x="152.3" y="425.8"/>
<use href="#mr" x="154.6" y="408.7"/>
<use href="#mr" x="155.2" y="421.3"/>
<use href="#mr" x="155.5" y="413.9"/>
<use href="#mr" x="155.7" y="420.7"/>
<use href="#mr" x="156.3" y="423.1"/>
<use href="#mr" x="160.3" y="415.2"/>
<use href="#mr" x="160.4" y="425.8"/>
<use href="#mr" x="161.7" y="425.0"/>
<use href="#mr" x="162.0" y="419.6"/>
<use href="#mr" x="163.8" y="404.7"/>
<use href="#mr" x="165.5" y="425.3"/>
<use href="#mr" x="167.3" y="416.6"/>
<use href="#mr" x="167.7" y="409.1"/>
<use href="#mr" x="168.6" y="400.8"/>
<use href="#mr" x="168.8" y="419.6"/>
<use href="#mr" x="169.4" y="392.5"/>
<use href="#mr" x="170.8" y="395.1"/>
<use href="#mr" x="171.4" y="425.0"/>
<use href="#mr" x="171.6" y="383.0"/>
<use href="#mr" x="173.0" y="414.8"/>
<use href="#mr" x="173.4" y="407.8"/>
<use href="#mr" x="175.4" y="387.3"/>
<use href="#mr" x="176.1" y="426.2"/>
<use href="#mr" x="176.9" y="412.2"/>
<use href="#mr" x="179.1" y="419.6"/>
<use href="#mr" x="179.6" y="413.9"/>
<use href="#mr" x="179.6" y="419.6"/>
<use href="#mr" x="180.2" y="423.4"/>
<use href="#mr" x="181.8" y="406.9"/>
<use href="#mr" x="182.2" y="426.2"/>
<use href="#mr" x="182.6" y="421.4"/>
<use href="#mr" x="183.1" y="413.5"/>
<use href="#mr" x="184.1" y="422.6"/>
<use href="#mr" x="184.8" y="415.7"/>
<use href="#mr" x="186.2" y="423.6"/>
<use href="#mr" x="187.5" y="418.3"/>
<use href="#mr" x="188.5" y="421.5"/>
<use href="#mr" x="191.0" y="391.3"/>
<use href="#mr" x="192.0" y="423.1"/>
<use href="#mr" x="192.3" y="424.0"/>
<use href="#mr" x="192.8" y="416.6"/>
<use href="#mr" x="192.9" y="427.0"/>
<use href="#mr" x="193.2" y="417.0"/>
<use href="#mr" x="195.9" y="420.5"/>
<use href="#mr" x="196.9" y="424.6"/>
<use href="#mr" x="197.0" y="420.9"/>
<use href="#mr" x="197.6" y="402.1"/>
<use href="#mr" x="198.1" y="405.2"/>
<use href="#mr" x="198.1" y="427.0"/>
<use href="#mr" x="200.3" y="421.4"/>
<use href="#mr" x="201.6" y="413.5"/>
<use href="#mr" x="203.8" y="415.7"/>
<use href="#mr" x="203.8" y="426.2"/>
<use href="#mr" x="205.5" y="400.3"/>
<use href="#mr" x="207.7" y="417.9"/>
<use href="#mr" x="208.2" y="407.8"/>
<use href="#mr" x="209.0" y="411.7"/>
<use href="#mr" x="209.1" y="420.2"/>
<use href="#mr" x="210.4" y="423.1"/>
<use href="#mr" x="211.7" y="425.3"/>
<use href="#mr" x="212.4" y="426.8"/>
<use href="#mr" x="212.6" y="418.8"/>
<use href="#mr" x="213.9" y="423.2"/>
<use href="#mr" x="215.5" y="386.8"/>
<use href="#mr" x="215.6" y="412.2"/>
<use href="#mr" x="216.1" y="403.4"/>
<use href="#mr" x="216.1" y="418.3"/>
<use href="#mr" x="217.0" y="421.2"/>
<use href="#mr" x="217.8" y="426.6"/>
<use href="#mr" x="217.9" y="420.2"/>
<use href="#mr" x="219.1" y="412.2"/>
<use href="#mr" x="219.1" y="425.0"/>
<use href="#mr" x="220.0" y="415.2"/>
<use href="#mr" x="222.7" y="412.6"/>
<use href="#mr" x="224.4" y="406.9"/>
<use href="#mr" x="225.6" y="382.9"/>
<use href="#md" x="229.4" y="417.3"/>
<use href="#md" x="230.0" y="421.1"/>
<use href="#md" x="230.4" y="426.9"/>
<use href="#md" x="231.5" y="422.3"/>
<use href="#md" x="232.2" y="425.7"/>
<use href="#md" x="233.2" y="427.2"/>
<use href="#md" x="233.8" y="423.2"/>
<use href="#md" x="235.0" y="415.5"/>
<use href="#md" x="235.1" y="420.6"/>
<use href="#md" x="235.9" y="422.9"/>
<use href="#md" x="236.1" y="425.4"/>
<use href="#md" x="237.5" y="420.5"/>
<use href="#md" x="237.8" y="427.1"/>
<use href="#md" x="238.8" y="420.2"/>
<use href="#md" x="239.5" y="425.1"/>
<use href="#md" x="240.5" y="415.2"/>
<use href="#md" x="240.9" y="413.6"/>
<use href="#md" x="241.0" y="427.0"/>
<use href="#md" x="241.9" y="423.1"/>
<use href="#md" x="242.9" y="425.8"/>
<use href="#md" x="243.8" y="419.4"/>
<use href="#md" x="243.8" y="415.6"/>
<use href="#md" x="244.4" y="425.8"/>
<use href="#md" x="245.6" y="424.9"/>
<use href="#md" x="246.3" y="425.7"/>
<use href="#md" x="246.6" y="420.1"/>
<use href="#md" x="247.5" y="417.9"/>
<use href="#md" x="248.4" y="426.0"/>
<use href="#md" x="249.0" y="423.8"/>
<use href="#md" x="249.9" y="416.4"/>
<use href="#md" x="250.2" y="417.2"/>
<use href="#md" x="250.6" y="424.1"/>
<use href="#md" x="251.4" y="417.3"/>
<use href="#md" x="252.2" y="427.0"/>
<use href="#md" x="252.9" y="424.0"/>
<use href="#md" x="254.4" y="417.5"/>
<use href="#md" x="254.5" y="415.8"/>
<use href="#md" x="255.1" y="416.1"/>
<use href="#md" x="256.0" y="424.7"/>
<use href="#md" x="256.2" y="417.1"/>
<use href="#md" x="257.5" y="427.1"/>
<use href="#md" x="258.2" y="423.6"/>
<use href="#md" x="258.8" y="424.1"/>
<use href="#md" x="258.9" y="414.0"/>
<use href="#md" x="259.5" y="427.2"/>
<use href="#md" x="260.3" y="424.1"/>
<use href="#md" x="261.7" y="426.4"/>
<use href="#md" x="261.8" y="415.6"/>
<use href="#md" x="262.5" y="425.7"/>
<use href="#md" x="262.8" y="418.6"/>
<use href="#md" x="264.0" y="423.7"/>
<use href="#md" x="264.2" y="423.2"/>
<use href="#md" x="265.3" y="417.1"/>
<use href="#md" x="265.9" y="424.1"/>
<use href="#md" x="266.7" y="415.2"/>
<use href="#md" x="267.0" y="414.8"/>
<use href="#md" x="267.3" y="427.1"/>
<use href="#md" x="267.7" y="418.1"/>
<use href="#md" x="268.8" y="427.0"/>
<use href="#md" x="269.0" y="426.9"/>
<use href="#md" x="270.5" y="425.3"/>
<use href="#md" x="271.2" y="417.2"/>
<use href="#md" x="271.5" y="415.6"/>
<use href="#md" x="271.7" y="425.1"/>
<use href="#md" x="273.0" y="421.4"/>
<use href="#md" x="273.2" y="420.3"/>
<use href="#md" x="274.1" y="425.3"/>
<use href="#md" x="274.6" y="420.3"/>
<use href="#md" x="275.2" y="418.1"/>
<use href="#md" x="276.2" y="422.1"/>
<use href="#md" x="277.0" y="427.1"/>
<use href="#md" x="277.2" y="423.7"/>
<use href="#md" x="278.6" y="418.2"/>
<use href="#md" x="279.0" y="425.6"/>
<use href="#md" x="279.8" y="423.2"/>
<use href="#md" x="281.0" y="426.1"/>
<use href="#md" x="281.7" y="420.0"/>
<use href="#md" x="282.0" y="416.5"/>
<use href="#md" x="282.5" y="419.7"/>
<use href="#md" x="283.2" y="424.8"/>
<use href="#md" x="283.8" y="424.4"/>
<use href="#md" x="284.9" y="426.8"/>
<use href="#md" x="285.3" y="419.1"/>
<use href="#md" x="286.1" y="426.8"/>
<use href="#md" x="286.7" y="421.2"/>
<use href="#md" x="287.0" y="414.0"/>
<use href="#md" x="287.8" y="415.0"/>
<use href="#md" x="289.0" y="415.9"/>
<use href="#md" x="289.3" y="426.8"/>
<use href="#md" x="289.5" y="417.3"/>
<use href="#md" x="290.0" y="422.9"/>
<use href="#md" x="291.3" y="423.4"/>
<use href="#md" x="291.7" y="423.6"/>
<use href="#md" x="292.9" y="419.9"/>
<use href="#md" x="293.8" y="416.7"/>
<use href="#md" x="294.0" y="414.0"/>
<use href="#md" x="294.5" y="426.4"/>
<use href="#md" x="295.5" y="424.8"/>
<use href="#md" x="296.0" y="424.0"/>
<use href="#md" x="297.0" y="425.7"/>
<use href="#md" x="297.4" y="425.2"/>
<use href="#md" x="298.9" y="413.6"/>
<use href="#mn" x="303.6" y="420.3"/>
<use href="#mn" x="304.0" y="418.6"/>
<use href="#mn" x="304.9" y="426.3"/>
<use href="#mn" x="305.6" y="419.6"/>
<use href="#mn" x="306.5" y="427.0"/>
<use href="#mn" x="307.5" y="417.7"/>
<use href="#mn" x="307.6" y="422.4"/>
<use href="#mn" x="308.6" y="428.0"/>
<use href="#mn" x="309.0" y="421.3"/>
<use href="#mn" x="309.5" y="418.9"/>
<use href="#mn" x="310.2" y="420.4"/>
<use href="#mn" x="310.4" y="426.7"/>
<use href="#mn" x="311.3" y="427.5"/>
<use href="#mn" x="312.9" y="424.9"/>
<use href="#mn" x="313.7" y="426.6"/>
<use href="#mn" x="314.4" y="421.8"/>
<use href="#mn" x="314.5" y="426.1"/>
<use href="#mn" x="314.9" y="423.7"/>
<use href="#mn" x="316.3" y="428.1"/>
<use href="#mn" x="316.9" y="424.3"/>
<use href="#mn" x="317.4" y="426.2"/>
<use href="#mn" x="318.2" y="427.4"/>
<use href="#mn" x="319.1" y="423.7"/>
<use href="#mn" x="319.4" y="418.9"/>
<use href="#mn" x="320.3" y="427.4"/>
<use href="#mn" x="320.7" y="426.5"/>
<use href="#mn" x="322.1" y="427.6"/>
<use href="#mn" x="322.6" y="427.4"/>
<use href="#mn" x="323.9" y="424.1"/>
<use href="#mn" x="324.1" y="428.0"/>
<use href="#mn" x="325.3" y="423.5"/>
<use href="#mn" x="325.5" y="417.3"/>
<use href="#mn" x="326.3" y="428.0"/>
<use href="#mn" x="326.8" y="422.3"/>
<use href="#mn" x="327.5" y="421.0"/>
<use href="#mn" x="327.9" y="426.8"/>
<use href="#mn" x="328.6" y="420.9"/>
<use href="#mn" x="329.5" y="425.1"/>
<use href="#mn" x="330.4" y="426.3"/>
<use href="#mn" x="331.7" y="422.1"/>
<use href="#mn" x="332.1" y="427.7"/>
<use href="#mn" x="333.3" y="427.7"/>
<use href="#mn" x="333.5" y="422.7"/>
<use href="#mn" x="334.5" y="421.8"/>
<use href="#mn" x="334.7" y="423.3"/>
<use href="#mn" x="335.6" y="422.9"/>
<use href="#mn" x="336.5" y="427.9"/>
<use href="#mn" x="336.9" y="425.5"/>
<use href="#mn" x="338.3" y="422.9"/>
<use href="#mn" x="338.6" y="422.2"/>
<use href="#mn" x="338.7" y="425.0"/>
<use href="#mn" x="339.8" y="425.7"/>
<use href="#mn" x="340.5" y="427.2"/>
<use href="#mn" x="341.7" y="422.0"/>
<use href="#mn" x="342.2" y="425.6"/>
<use href="#mn" x="342.7" y="421.0"/>
<use href="#mn" x="343.6" y="421.5"/>
<use href="#mn" x="344.0" y="428.0"/>
<use href="#mn" x="345.5" y="421.6"/>
<use href="#mn" x="345.9" y="428.3"/>
<use href="#mn" x="346.0" y="421.3"/>
<use href="#mn" x="347.2" y="426.5"/>
<use href="#mn" x="348.0" y="424.8"/>
<use href="#mn" x="348.8" y="427.9"/>
<use href="#mn" x="349.6" y="427.5"/>
<use href="#mn" x="350.1" y="422.7"/>
<use href="#mn" x="350.6" y="421.2"/>
<use href="#mn" x="351.4" y="427.7"/>
<use href="#mn" x="351.7" y="426.4"/>
<use href="#mn" x="352.8" y="426.5"/>
<use href="#mn" x="353.3" y="427.4"/>
<use href="#mn" x="354.7" y="422.5"/>
<use href="#mn" x="355.0" y="425.2"/>
<use href="#mn" x="356.0" y="421.4"/>
<use href="#mn" x="356.4" y="428.4"/>
<use href="#mn" x="357.4" y="428.1"/>
<use href="#mn" x="358.0" y="425.4"/>
<use href="#mn" x="358.9" y="427.0"/>
<use href="#mn" x="359.6" y="425.0"/>
<use href="#mn" x="360.4" y="424.3"/>
<use href="#mn" x="361.3" y="425.9"/>
<use href="#mn" x="361.8" y="424.4"/>
<use href="#mn" x="362.0" y="420.8"/>
<use href="#mn" x="363.1" y="427.4"/>
<use href="#mn" x="364.2" y="423.4"/>
<use href="#mn" x="364.7" y="427.7"/>
<use href="#mn" x="365.6" y="428.1"/>
<use href="#mn" x="366.2" y="425.9"/>
<use href="#mn" x="367.0" y="425.7"/>
<use href="#mn" x="368.0" y="419.9"/>
<use href="#mn" x="368.2" y="428.4"/>
<use href="#mn" x="369.2" y="428.2"/>
<use href="#mn" x="370.1" y="422.8"/>
<use href="#mn" x="370.8" y="428.3"/>
<use href="#mn" x="371.6" y="426.1"/>
<use href="#mn" x="371.9" y="419.7"/>
<use href="#mn" x="372.9" y="427.9"/>
<use href="#mn" x="373.7" y="420.7"/>
<use href="#mn" x="374.4" y="422.3"/>
<use href="#mn" x="374.8" y="420.5"/>
<use href="#mn" x="375.0" y="420.2"/>
<use href="#mg" x="378.9" y="410.9"/>
<use href="#mg" x="380.7" y="413.9"/>
<use href="#mg" x="381.6" y="426.2"/>
<use href="#mg" x="382.9" y="418.3"/>
<use href="#mg" x="384.6" y="406.0"/>
<use href="#mg" x="384.6" y="410.4"/>
<use href="#mg" x="386.3" y="360.2"/>
<use href="#mg" x="387.1" y="381.3"/>
<use href="#mg" x="387.7" y="416.6"/>
<use href="#mg" x="389.5" y="418.8"/>
<use href="#mg" x="390.4" y="401.2"/>
<use href="#mg" x="392.1" y="395.5"/>
<use href="#mg" x="393.0" y="405.6"/>
<use href="#mg" x="393.4" y="416.1"/>
<use href="#mg" x="394.0" y="371.7"/>
<use href="#mg" x="395.2" y="410.0"/>
<use href="#mg" x="395.2" y="419.2"/>
<use href="#mg" x="397.4" y="401.6"/>
<use href="#mg" x="398.7" y="395.1"/>
<use href="#mg" x="399.1" y="410.9"/>
<use href="#mg" x="399.6" y="423.8"/>
<use href="#mg" x="400.4" y="422.3"/>
<use href="#mg" x="400.9" y="426.6"/>
<use href="#mg" x="405.3" y="413.1"/>
<use href="#mg" x="405.3" y="426.2"/>
<use href="#mg" x="406.6" y="417.9"/>
<use href="#mg" x="407.1" y="380.6"/>
<use href="#mg" x="407.5" y="424.6"/>
<use href="#mg" x="408.5" y="371.3"/>
<use href="#mg" x="409.2" y="422.7"/>
<use href="#mg" x="410.5" y="408.7"/>
<use href="#mg" x="412.3" y="395.5"/>
<use href="#mg" x="412.3" y="425.8"/>
<use href="#mg" x="412.7" y="415.7"/>
<use href="#mg" x="413.8" y="377.5"/>
<use href="#mg" x="414.8" y="387.9"/>
<use href="#mg" x="416.2" y="402.1"/>
<use href="#mg" x="416.7" y="423.6"/>
<use href="#mg" x="417.6" y="414.4"/>
<use href="#mg" x="418.4" y="406.9"/>
<use href="#mg" x="418.9" y="426.6"/>
<use href="#mg" x="420.0" y="382.7"/>
<use href="#mg" x="420.2" y="413.5"/>
<use href="#mg" x="420.6" y="422.3"/>
<use href="#mg" x="422.1" y="391.0"/>
<use href="#mg" x="422.9" y="394.6"/>
<use href="#mg" x="423.1" y="374.4"/>
<use href="#mg" x="423.1" y="418.4"/>
<use href="#mg" x="423.3" y="414.4"/>
<use href="#mg" x="423.6" y="418.7"/>
<use href="#mg" x="423.8" y="424.1"/>
<use href="#mg" x="424.2" y="426.6"/>
<use href="#mg" x="425.5" y="325.2"/>
<use href="#mg" x="426.3" y="363.3"/>
<use href="#mg" x="427.3" y="391.0"/>
<use href="#mg" x="427.7" y="394.6"/>
<use href="#mg" x="428.2" y="421.4"/>
<use href="#mg" x="428.3" y="373.3"/>
<use href="#mg" x="431.5" y="383.8"/>
<use href="#mg" x="431.7" y="413.1"/>
<use href="#mg" x="431.7" y="424.0"/>
<use href="#mg" x="432.1" y="394.2"/>
<use href="#mg" x="432.5" y="391.0"/>
<use href="#mg" x="434.6" y="371.7"/>
<use href="#mg" x="436.5" y="418.8"/>
<use href="#mg" x="437.6" y="425.6"/>
<use href="#mg" x="438.7" y="412.6"/>
<use href="#mg" x="438.8" y="383.8"/>
<use href="#mg" x="439.4" y="418.6"/>
<use href="#mg" x="440.0" y="281.4"/>
<use href="#mg" x="440.0" y="424.0"/>
<use href="#mg" x="440.9" y="425.7"/>
<use href="#mg" x="442.6" y="396.4"/>
<use href="#mg" x="443.1" y="407.8"/>
<use href="#mg" x="443.1" y="417.0"/>
<use href="#mg" x="445.3" y="426.2"/>
<use href="#mg" x="445.3" y="424.5"/>
<use href="#mg" x="446.4" y="425.5"/>
<use href="#mg" x="446.6" y="404.7"/>
<use href="#mg" x="447.1" y="385.8"/>
<use href="#mg" x="448.3" y="415.7"/>
<use href="#mg" x="449.6" y="398.1"/>
<use href="#mg" x="451.3" y="380.6"/>
<use href="#mg" x="454.0" y="394.2"/>
<use href="#mb" x="454.0" y="415.2"/>
<use href="#mb" x="454.4" y="421.8"/>
<use href="#mb" x="456.7" y="425.7"/>
<use href="#mb" x="457.5" y="406.5"/>
<use href="#mb" x="457.9" y="409.5"/>
<use href="#mb" x="460.1" y="425.3"/>
<use href="#mb" x="461.6" y="420.0"/>
<use href="#mb" x="462.4" y="423.3"/>
<use href="#mb" x="463.2" y="414.8"/>
<use href="#mb" x="464.5" y="421.4"/>
<use href="#mb" x="465.8" y="424.4"/>
<use href="#mb" x="465.8" y="420.4"/>
<use href="#mb" x="466.3" y="421.5"/>
<use href="#mb" x="466.7" y="406.5"/>
<use href="#mb" x="468.0" y="416.1"/>
<use href="#mb" x="469.3" y="408.2"/>
<use href="#mb" x="470.2" y="420.5"/>
<use href="#mb" x="471.5" y="402.1"/>
<use href="#mb" x="472.6" y="386.4"/>
<use href="#mb" x="473.7" y="396.8"/>
<use href="#mb" x="474.4" y="389.0"/>
<use href="#mb" x="476.8" y="405.6"/>
<use href="#mb" x="477.2" y="410.9"/>
<use href="#mb" x="478.9" y="395.1"/>
<use href="#mb" x="480.3" y="418.8"/>
<use href="#mb" x="480.3" y="421.6"/>
<use href="#mb" x="481.1" y="425.8"/>
<use href="#mb" x="482.9" y="413.1"/>
<use href="#mb" x="483.8" y="418.8"/>
<use href="#mb" x="485.1" y="406.9"/>
<use href="#mb" x="486.3" y="425.8"/>
<use href="#mb" x="486.4" y="426.2"/>
<use href="#mb" x="488.6" y="417.4"/>
<use href="#mb" x="490.4" y="421.4"/>
<use href="#mb" x="492.2" y="422.3"/>
<use href="#mb" x="494.1" y="394.9"/>
<use href="#mb" x="496.0" y="418.8"/>
<use href="#mb" x="496.3" y="420.8"/>
<use href="#mb" x="496.6" y="418.8"/>
<use href="#mb" x="496.8" y="422.4"/>
<use href="#mb" x="497.9" y="424.9"/>
<use href="#mb" x="500.0" y="424.2"/>
<use href="#mb" x="500.1" y="403.4"/>
<use href="#mb" x="500.5" y="424.5"/>
<use href="#mb" x="500.7" y="420.1"/>
<use href="#mb" x="501.0" y="405.6"/>
<use href="#mb" x="501.0" y="419.2"/>
<use href="#mb" x="502.7" y="421.4"/>
<use href="#mb" x="502.7" y="426.2"/>
<use href="#mb" x="503.6" y="420.7"/>
<use href="#mb" x="504.5" y="413.1"/>
<use href="#mb" x="505.4" y="416.6"/>
<use href="#mb" x="506.2" y="406.5"/>
<use href="#mb" x="508.3" y="426.7"/>
<use href="#mb" x="508.4" y="396.8"/>
<use href="#mb" x="509.3" y="418.8"/>
<use href="#mb" x="510.2" y="422.3"/>
<use href="#mb" x="511.1" y="410.9"/>
<use href="#mb" x="512.2" y="425.1"/>
<use href="#mb" x="512.4" y="415.7"/>
<use href="#mb" x="513.2" y="427.5"/>
<use href="#mb" x="513.8" y="425.2"/>
<use href="#mb" x="515.0" y="418.3"/>
<use href="#mb" x="516.3" y="422.7"/>
<use href="#mb" x="517.7" y="423.1"/>
<use href="#mb" x="518.9" y="394.6"/>
<use href="#mb" x="518.9" y="407.4"/>
<use href="#mb" x="519.8" y="417.4"/>
<use href="#mb" x="520.3" y="424.0"/>
<use href="#mb" x="522.0" y="419.6"/>
<use href="#mb" x="525.5" y="404.3"/>
<use href="#mb" x="526.0" y="407.4"/>
<use href="#mb" x="526.3" y="423.0"/>
<use href="#mb" x="527.3" y="410.4"/>
<use href="#mb" x="528.8" y="387.8"/>
<use href="#mb" x="529.5" y="413.9"/>
</g>
<rect x="67.55" y="252.8" width="469.55" height="176.89999999999998" fill="none" stroke="#000" stroke-width="1.75"/>
<path d="M75.00 429.7v-7.8 M150.73 429.7v-7.8 M226.46 429.7v-7.8 M302.19 429.7v-7.8 M377.92 429.7v-7.8 M453.65 429.7v-7.8 M529.38 429.7v-7.8 M112.87 429.7v-3.8 M188.59 429.7v-3.8 M264.32 429.7v-3.8 M340.06 429.7v-3.8 M415.78 429.7v-3.8 M491.51 429.7v-3.8 M67.55 427.60h6.9 M67.55 392.64h6.9 M67.55 357.68h6.9 M67.55 322.72h6.9 M67.55 287.76h6.9 M67.55 252.80h6.9 M67.55 410.12h3.8 M67.55 375.16h3.8 M67.55 340.20h3.8 M67.55 305.24h3.8 M67.55 270.28h3.8" stroke="#000" stroke-width="1.5" fill="none"/>
<g class="tk">
<text transform="translate(75.0 448.9) scale(0.795 1)" text-anchor="middle" style="font-size:16.4px">0</text>
<text transform="translate(150.7 448.9) scale(0.795 1)" text-anchor="middle" style="font-size:16.4px">100</text>
<text transform="translate(226.5 448.9) scale(0.795 1)" text-anchor="middle" style="font-size:16.4px">200</text>
<text transform="translate(302.2 448.9) scale(0.795 1)" text-anchor="middle" style="font-size:16.4px">300</text>
<text transform="translate(377.9 448.9) scale(0.795 1)" text-anchor="middle" style="font-size:16.4px">400</text>
<text transform="translate(453.6 448.9) scale(0.795 1)" text-anchor="middle" style="font-size:16.4px">500</text>
<text transform="translate(529.4 448.9) scale(0.795 1)" text-anchor="middle" style="font-size:16.4px">600</text>
<text transform="translate(59.8 432.1) scale(0.75 1)" text-anchor="end">0.00</text>
<text transform="translate(59.8 397.1) scale(0.75 1)" text-anchor="end">0.01</text>
<text transform="translate(59.8 362.2) scale(0.75 1)" text-anchor="end">0.02</text>
<text transform="translate(59.8 327.2) scale(0.75 1)" text-anchor="end">0.03</text>
<text transform="translate(59.8 292.3) scale(0.75 1)" text-anchor="end">0.04</text>
<text transform="translate(59.8 257.3) scale(0.75 1)" text-anchor="end">0.05</text>
</g>
<rect x="116.4" y="262.2" width="353.79999999999995" height="15.100000000000023" fill="#fff" stroke="#222" stroke-width="1.2"/>
<g class="lg">
<use href="#mk" x="129.5" y="269.7"/>
<text transform="translate(141.7 273.6) scale(0.79 1)">uncali-Ax</text>
<use href="#mr" x="192.7" y="269.7"/>
<text transform="translate(204.8 273.6) scale(0.79 1)">cali-Ax</text>
<use href="#md" x="246.6" y="269.7"/>
<text transform="translate(258.4 273.6) scale(0.79 1)">uncali-Ay</text>
<use href="#mn" x="309.4" y="269.7"/>
<text transform="translate(323.5 273.6) scale(0.79 1)">cali-Ay</text>
<use href="#mg" x="364.7" y="269.7"/>
<text transform="translate(376.6 273.6) scale(0.79 1)">uncali-Az</text>
<use href="#mb" x="427.6" y="269.7"/>
<text transform="translate(439 273.6) scale(0.79 1)">cali-Az</text>
</g>
<text class="ti" transform="translate(25.4 418) rotate(-90)">Attitude Error(rad)</text>
</svg>
</body></html>
